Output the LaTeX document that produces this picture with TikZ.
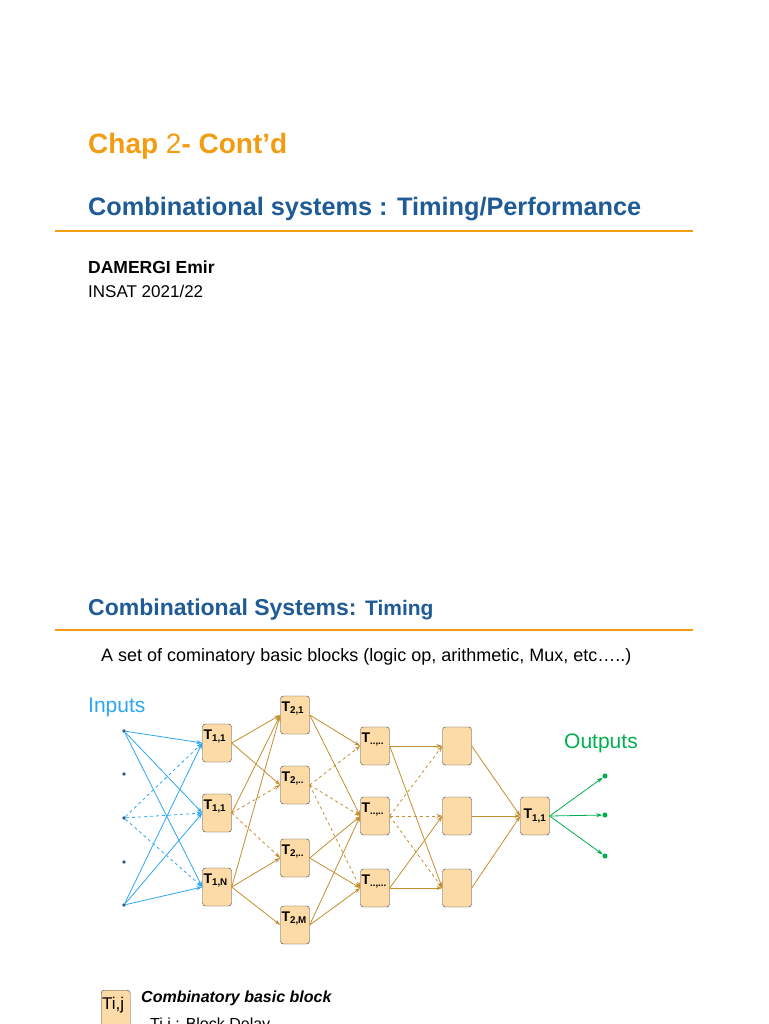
\documentclass[tikz,border=0pt]{standalone}
\usepackage{fontspec}
\setmainfont{Liberation Sans}
\usetikzlibrary{arrows.meta}
\definecolor{orng}{HTML}{F39C12}
\definecolor{dblue}{HTML}{1F5B96}
\definecolor{lblue}{HTML}{2EA6F2}
\definecolor{grn}{HTML}{00B050}
\definecolor{boxf}{HTML}{FDDBA6}
\definecolor{edg}{HTML}{C58E2E}
\begin{document}
\begin{tikzpicture}[x=1pt,y=-1pt,
  blk/.style={draw=black!75,fill=boxf,rounded corners=3pt,minimum width=29pt,minimum height=38pt,inner sep=0pt},
  lbl/.style={label={[anchor=north west,inner sep=1pt,yshift=-5pt,font=\bfseries\fontsize{14}{14}\selectfont]north west:#1}},
  dotnd/.style={circle,fill=dblue,inner sep=1.3pt},
  gdot/.style={circle,fill=grn,inner sep=1.8pt},
  bsolid/.style={edg,line width=0.8pt,-{Stealth[length=6pt,width=4pt]}},
  bdash/.style={bsolid,dashed},
  isolid/.style={lblue,line width=0.8pt,-{Stealth[length=6pt,width=4pt]}},
  idash/.style={isolid,dashed}]
\useasboundingbox (0,0) rectangle (768,1024);
\fill[white] (0,0) rectangle (768,1024);
\node[anchor=west,inner sep=0pt,orng,font=\bfseries\fontsize{28}{28}\selectfont] (chap) at (88,146) {Chap \textmd{2}- Cont’d};
\node[anchor=west,inner sep=0pt,dblue,font=\bfseries\fontsize{25.3}{26}\selectfont] (t1) at (88,209) {Combinational systems : Timing/Performance};
\draw[orng,line width=1.5pt] (55,231) -- (693,231);
\node[anchor=west,inner sep=0pt,font=\bfseries\fontsize{17.5}{18}\selectfont] (au) at (88,267) {DAMERGI Emir};
\node[anchor=west,inner sep=0pt,font=\fontsize{17}{17}\selectfont] (ins) at (88,291) {INSAT 2021/22};
\node[anchor=west,inner sep=0pt,dblue,font=\bfseries\fontsize{23}{23}\selectfont] (t2) at (88,610) {Combinational Systems: \fontsize{21}{21}\selectfont Timing};
\draw[orng,line width=1.5pt] (55,630) -- (693,630);
\node[anchor=west,inner sep=0pt,font=\fontsize{18}{18}\selectfont] (desc) at (101,657) {A set of cominatory basic blocks (logic op, arithmetic, Mux, etc…..)};
\node[anchor=west,inner sep=0pt,lblue,font=\fontsize{21}{21}\selectfont] (inl) at (88,707) {Inputs};
\node[anchor=west,inner sep=0pt,grn,font=\fontsize{21}{21}\selectfont] (outl) at (564,743) {Outputs};
\foreach \i/\y in {1/731,2/774,3/818,4/862,5/905} \node[dotnd] (in\i) at (124,\y) {};
\node[blk,lbl={T\textsubscript{1,1}}] (a1) at (217,743) {};
\node[blk,lbl={T\textsubscript{1,1}}] (a2) at (217,813) {};
\node[blk,lbl={T\textsubscript{1,N}}] (a3) at (217,887) {};
\node[blk,lbl={T\textsubscript{2,1}}] (b1) at (295,715) {};
\node[blk,lbl={T\textsubscript{2,..}}] (b2) at (295,785) {};
\node[blk,lbl={T\textsubscript{2,..}}] (b3) at (295,858) {};
\node[blk,lbl={T\textsubscript{2,M}}] (b4) at (295,925) {};
\node[blk,lbl={T\textsubscript{..,..}}] (c1) at (375,746) {};
\node[blk,lbl={T\textsubscript{..,..}}] (c2) at (375,816) {};
\node[blk,lbl={T\textsubscript{..,...}}] (c3) at (375,888) {};
\node[blk] (d1) at (457,746) {};
\node[blk] (d2) at (457,816) {};
\node[blk] (d3) at (457,888) {};
\node[blk,font=\bfseries\fontsize{14}{14}\selectfont] (f) at (535,816) {T\textsubscript{1,1}};
\foreach \i/\y in {1/776,2/815,3/856} \node[gdot] (o\i) at (605,\y) {};
\foreach \t in {a1,a2,a3} {\draw[isolid] (in1) -- (\t.west); \draw[isolid] (in5) -- (\t.west); \draw[idash] (in3) -- (\t.west);}
\draw[bsolid] (a1.east) -- (b1.west); \draw[bsolid] (a1.east) -- (b2.west);
\draw[bsolid] (a2.east) -- (b1.west); \draw[bdash] (a2.east) -- (b2.west); \draw[bdash] (a2.east) -- (b3.west);
\draw[bsolid] (a3.east) -- (b1.west); \draw[bsolid] (a3.east) -- (b3.west); \draw[bsolid] (a3.east) -- (b4.west);
\draw[bsolid] (b1.east) -- (c1.west); \draw[bsolid] (b1.east) -- (c2.west);
\draw[bdash] (b2.east) -- (c1.west); \draw[bdash] (b2.east) -- (c2.west); \draw[bdash] (b2.east) -- (c3.west);
\draw[bsolid] (b3.east) -- (c2.west); \draw[bsolid] (b3.east) -- (c3.west);
\draw[bsolid] (b4.east) -- (c2.west); \draw[bsolid] (b4.east) -- (c3.west);
\draw[bsolid] (c1.east) -- (d1.west); \draw[bsolid] (c1.east) -- (d3.west);
\draw[bdash] (c2.east) -- (d1.west); \draw[bdash] (c2.east) -- (d2.west); \draw[bdash] (c2.east) -- (d3.west);
\draw[bsolid] (c3.east) -- (d2.west); \draw[bsolid] (c3.east) -- (d3.west);
\foreach \s in {d1,d2,d3} \draw[bsolid] (\s.east) -- (f.west);
\foreach \o in {o1,o2,o3} \draw[grn,line width=0.8pt,-{Stealth[length=6pt,width=4pt]}] (f.east) -- (\o);
\node[blk,anchor=north west,label={[anchor=north west,inner sep=1pt,yshift=-6pt,font=\fontsize{17}{17}\selectfont]north west:Ti,j}] (leg) at (101,990) {};
\node[anchor=west,inner sep=0pt,font=\bfseries\itshape\fontsize{16}{16}\selectfont] (legt) at (141,998) {Combinatory basic block};
\node[anchor=west,inner sep=0pt,font=\fontsize{16}{16}\selectfont] (legd) at (150,1025) {Ti,j : Block Delay};
\end{tikzpicture}
\end{document}
